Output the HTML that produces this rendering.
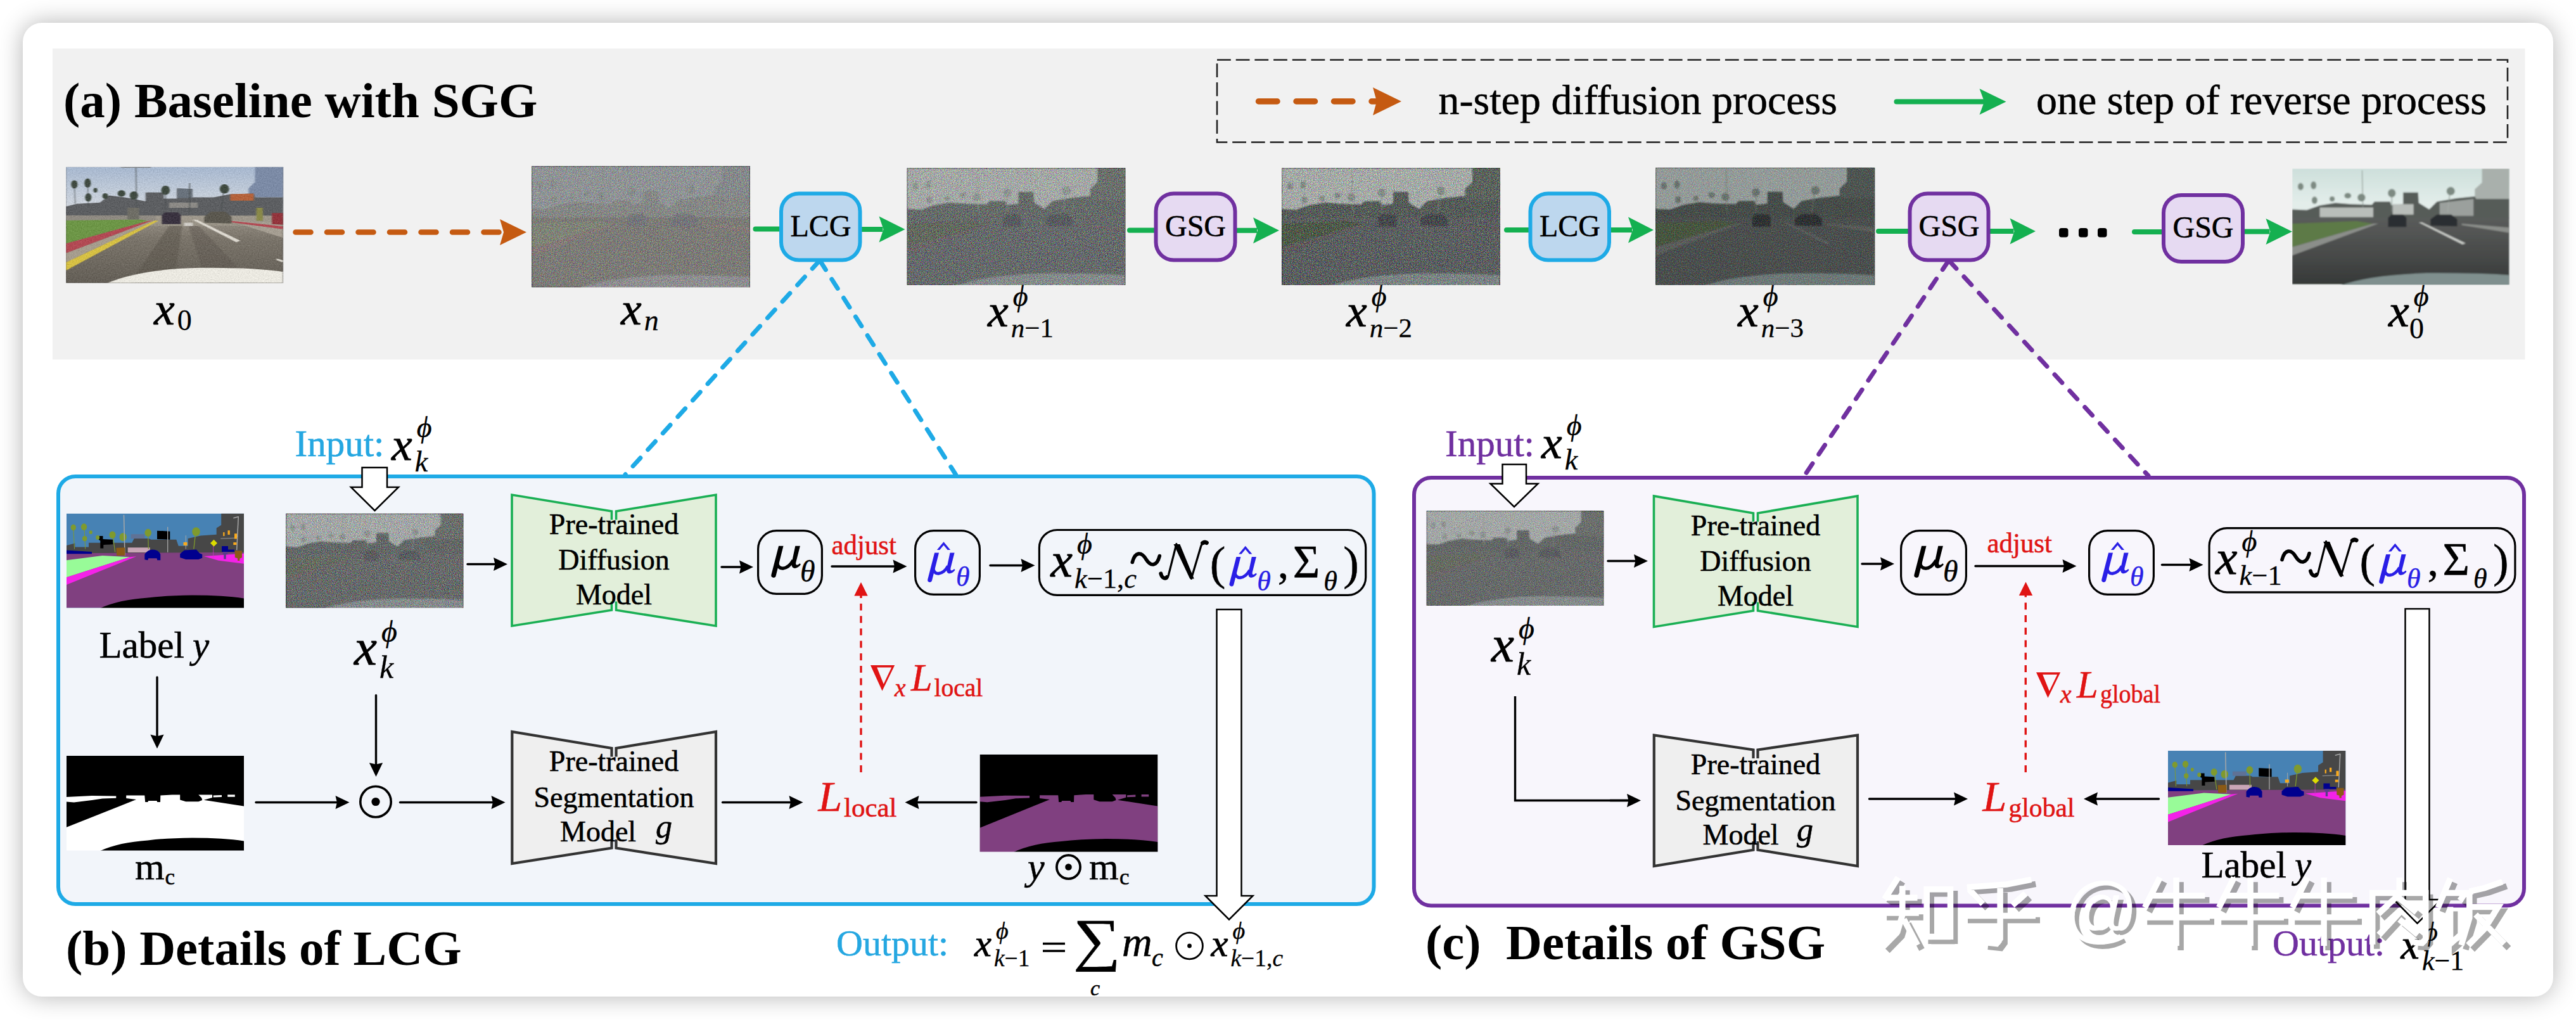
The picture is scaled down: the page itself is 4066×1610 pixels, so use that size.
<!DOCTYPE html><html><head><meta charset="utf-8"><title>SGG</title><style>
html,body{margin:0;padding:0;background:#fff;}body{width:4066px;height:1610px;position:relative;overflow:hidden;font-family:"Liberation Serif",serif;}
#card{position:absolute;left:36px;top:36px;width:3993.5px;height:1536.5px;border-radius:30px;background:#fff;box-shadow:0 0 38px rgba(0,0,0,0.30);}
svg#main{position:absolute;left:0;top:0;}text{font-family:"Liberation Serif",serif;white-space:pre;}
</style></head><body><div id="card"></div>
<svg id="main" width="4066" height="1610" viewBox="0 0 4066 1610">
<defs><filter id="nzA" x="0" y="0" width="100%" height="100%" color-interpolation-filters="sRGB"><feGaussianBlur in="SourceGraphic" stdDeviation="1.2" result="b"/><feTurbulence type="fractalNoise" baseFrequency="0.71" numOctaves="2" seed="3" result="t"/><feColorMatrix in="t" type="matrix" values="1 0 0 0 0 0 1 0 0 0 0 0 1 0 0 0 0 0 0 1" result="n"/><feComposite in="b" in2="n" operator="arithmetic" k1="0" k2="1" k3="0.75" k4="-0.375"/></filter><filter id="nzB" x="0" y="0" width="100%" height="100%" color-interpolation-filters="sRGB"><feGaussianBlur in="SourceGraphic" stdDeviation="1.2" result="b"/><feTurbulence type="fractalNoise" baseFrequency="0.71" numOctaves="2" seed="7" result="t"/><feColorMatrix in="t" type="matrix" values="1 0 0 0 0 0 1 0 0 0 0 0 1 0 0 0 0 0 0 1" result="n"/><feComposite in="b" in2="n" operator="arithmetic" k1="0" k2="1" k3="1.0" k4="-0.5"/></filter><filter id="nzC" x="0" y="0" width="100%" height="100%" color-interpolation-filters="sRGB"><feGaussianBlur in="SourceGraphic" stdDeviation="1.2" result="b"/><feTurbulence type="fractalNoise" baseFrequency="0.71" numOctaves="2" seed="11" result="t"/><feColorMatrix in="t" type="matrix" values="1 0 0 0 0 0 1 0 0 0 0 0 1 0 0 0 0 0 0 1" result="n"/><feComposite in="b" in2="n" operator="arithmetic" k1="0" k2="1" k3="1.0" k4="-0.5"/></filter><filter id="nzD" x="0" y="0" width="100%" height="100%" color-interpolation-filters="sRGB"><feGaussianBlur in="SourceGraphic" stdDeviation="1.2" result="b"/><feTurbulence type="fractalNoise" baseFrequency="0.71" numOctaves="2" seed="17" result="t"/><feColorMatrix in="t" type="matrix" values="1 0 0 0 0 0 1 0 0 0 0 0 1 0 0 0 0 0 0 1" result="n"/><feComposite in="b" in2="n" operator="arithmetic" k1="0" k2="1" k3="0.6" k4="-0.3"/></filter><filter id="nzE" x="0" y="0" width="100%" height="100%" color-interpolation-filters="sRGB"><feGaussianBlur in="SourceGraphic" stdDeviation="1.2" result="b"/><feTurbulence type="fractalNoise" baseFrequency="0.71" numOctaves="2" seed="23" result="t"/><feColorMatrix in="t" type="matrix" values="1 0 0 0 0 0 1 0 0 0 0 0 1 0 0 0 0 0 0 1" result="n"/><feComposite in="b" in2="n" operator="arithmetic" k1="0" k2="1" k3="1.0" k4="-0.5"/></filter><filter id="nzF" x="0" y="0" width="100%" height="100%" color-interpolation-filters="sRGB"><feGaussianBlur in="SourceGraphic" stdDeviation="1.2" result="b"/><feTurbulence type="fractalNoise" baseFrequency="0.71" numOctaves="2" seed="29" result="t"/><feColorMatrix in="t" type="matrix" values="1 0 0 0 0 0 1 0 0 0 0 0 1 0 0 0 0 0 0 1" result="n"/><feComposite in="b" in2="n" operator="arithmetic" k1="0" k2="1" k3="0.75" k4="-0.375"/></filter><filter id="tex" x="0" y="0" width="100%" height="100%" color-interpolation-filters="sRGB"><feGaussianBlur in="SourceGraphic" stdDeviation="0.8" result="b"/><feTurbulence type="fractalNoise" baseFrequency="0.5" numOctaves="3" seed="4" result="t"/><feColorMatrix in="t" type="matrix" values="0.33 0.33 0.33 0 0 0.33 0.33 0.33 0 0 0.33 0.33 0.33 0 0 0 0 0 0 1" result="n"/><feComposite in="b" in2="n" operator="arithmetic" k1="0" k2="1" k3="0.28" k4="-0.14"/></filter><filter id="soft" x="0" y="0" width="100%" height="100%"><feGaussianBlur stdDeviation="0.9"/></filter><filter id="soft2" x="0" y="0" width="100%" height="100%"><feGaussianBlur stdDeviation="0.5"/></filter><linearGradient id="gsky" x1="0" y1="0" x2="0" y2="1"><stop offset="0" stop-color="#a7b8cf"/><stop offset="1" stop-color="#dadde1"/></linearGradient><linearGradient id="groad" x1="0" y1="0" x2="0" y2="1"><stop offset="0" stop-color="#9a9388"/><stop offset="0.35" stop-color="#7a746a"/><stop offset="1" stop-color="#645f57"/></linearGradient><linearGradient id="csky" x1="0" y1="0" x2="0" y2="1"><stop offset="0" stop-color="#cddfdb"/><stop offset="0.3" stop-color="#e3edea"/><stop offset="1" stop-color="#e8f0ee"/></linearGradient><linearGradient id="croad" x1="0" y1="0" x2="0" y2="1"><stop offset="0" stop-color="#5a5c5b"/><stop offset="0.5" stop-color="#4a4c4b"/><stop offset="1" stop-color="#363938"/></linearGradient></defs>
<rect x="83" y="76.5" width="3902.5" height="491" fill="#f1f1f1"/>
<text x="100" y="185" font-size="79" fill="#000" font-weight="bold" textLength="748.5" lengthAdjust="spacingAndGlyphs" >(a) Baseline with SGG</text>
<rect x="1921" y="94.5" width="2037" height="130" fill="none" stroke="#222" stroke-width="2.6" stroke-dasharray="21.8 7.9"/>
<path d="M1986.5 160H2175" stroke="#C55A11" stroke-width="9.5" stroke-linecap="round" stroke-dasharray="29.5 30" fill="none"/>
<path d="M2212 160L2167 138L2173 160L2167 182Z" fill="#C55A11"/>
<text x="2270.6" y="179.5" font-size="66" fill="#000" stroke="#000" stroke-width="0.55" >n-step diffusion process</text>
<path d="M2993.5 160.5H3135" stroke="#14B050" stroke-width="8" stroke-linecap="round" fill="none"/>
<path d="M3166.5 160.5L3124.5 140L3132 160.5L3124.5 181Z" fill="#14B050"/>
<text x="3214" y="180" font-size="66" fill="#000" stroke="#000" stroke-width="0.55" >one step of reverse process</text>
<svg x="104" y="263.5" width="343.5" height="183.5" viewBox="0 0 344 184" preserveAspectRatio="none" overflow="hidden"><g filter="url(#tex)"><rect width="344" height="78" fill="url(#gsky)"/><polygon points="298.9,0.0 343.2,0.0 343.2,48.2 288.7,48.2 288.7,33.8 298.9,23.5" fill="#7c8ba6"/><polygon points="0.0,62.6 16.9,58.5 53.9,56.4 68.4,45.1 93.1,48.2 126.0,54.4 126.0,40.4 154.8,40.4 154.8,50.2 175.4,50.2 175.4,33.8 200.1,34.8 200.1,48.2 233.1,48.2 259.8,43.0 296.9,42.0 298.9,48.2 343.2,48.2 343.2,78.0 0.0,78.0" fill="#5d5f62"/><polygon points="259.8,43.0 296.9,42.0 296.9,53.3 259.8,53.3" fill="#b5633c"/><polygon points="176.4,34.2 199.7,35.0 199.7,49.2 176.4,49.2" fill="#69727c"/><polygon points="163.1,56.4 208.4,56.4 208.4,64.6 163.1,64.6" fill="#8c8a86"/><ellipse cx="13.4" cy="27.6" rx="5.1" ry="6.6" fill="#3f4a40"/><ellipse cx="34.4" cy="25.5" rx="5.1" ry="7.4" fill="#3f4a40"/><ellipse cx="46.7" cy="36.9" rx="3.1" ry="3.7" fill="#3f4a40"/><ellipse cx="35.4" cy="48.2" rx="5.1" ry="6.6" fill="#3f4a40"/><ellipse cx="87.9" cy="42.0" rx="6.2" ry="5.1" fill="#3f4a40"/><ellipse cx="107.5" cy="45.1" rx="6.6" ry="6.6" fill="#3f4a40"/><ellipse cx="157.5" cy="36.9" rx="6.8" ry="7.4" fill="#3f4a40"/><ellipse cx="250.6" cy="34.8" rx="7.4" ry="7.4" fill="#3f4a40"/><ellipse cx="62.2" cy="46.1" rx="4.5" ry="4.5" fill="#3f4a40"/><line x1="13.4" y1="27.6" x2="14.8" y2="58.5" stroke="#4a4f50" stroke-width="1.0"/><line x1="34.4" y1="25.5" x2="35.4" y2="64.6" stroke="#4a4f50" stroke-width="1.0"/><line x1="157.5" y1="37.9" x2="157.5" y2="68.8" stroke="#4a4f50" stroke-width="1.2"/><line x1="249.5" y1="35.8" x2="245.8" y2="68.8" stroke="#4a4f50" stroke-width="1.2"/><line x1="110.6" y1="0.0" x2="112.0" y2="68.8" stroke="#4a4f50" stroke-width="1.2"/><line x1="195.6" y1="25.5" x2="195.6" y2="72.9" stroke="#4a4f50" stroke-width="1.4"/><line x1="86.9" y1="0.8" x2="134.2" y2="0.8" stroke="#7a7f84" stroke-width="1.4"/><polygon points="0.0,77.0 343.2,77.0 343.2,183.4 0.0,183.4" fill="url(#groad)"/><polygon points="0.0,78.0 343.2,78.0 343.2,93.5 0.0,93.5" fill="#b0a99c" opacity="0.35"/><polygon points="0.0,77.0 142.5,77.0 142.5,85.2 0.0,85.2" fill="#8f8a82"/><polygon points="0.0,84.8 117.8,83.2 130.1,85.6 0.0,121.3" fill="#6d9647"/><polygon points="0.0,121.3 130.1,85.6 137.3,84.8 0.0,136.7" fill="#b24a54"/><polygon points="0.0,136.7 137.3,84.8 140.8,84.8 0.0,151.1" fill="#a69d8e"/><polygon points="0.0,151.1 140.8,84.8 146.2,85.2 0.0,163.9" fill="#d6c044"/><polygon points="261.9,84.8 343.2,88.3 343.2,112.0 290.7,95.5" fill="#a59e92"/><polygon points="261.9,85.6 343.2,93.9 343.2,98.6 261.9,87.7" fill="#b24a54"/><polygon points="200.1,83.6 206.7,83.6 275.3,116.5 269.7,119.2" fill="#ddd9d0"/><polygon points="186.7,88.3 200.1,88.3 201.2,93.5 186.7,93.5" fill="#cfccc6"/><polygon points="332.9,144.9 343.2,148.0 343.2,151.1 332.9,147.4" fill="#ddd9d0"/><polygon points="97.2,64.6 115.7,64.6 115.7,83.2 97.2,83.2" fill="#6f6e66"/><polygon points="163.1,93.5 183.7,93.5 171.3,183.4 101.3,183.4" fill="#5d574f" opacity="0.55"/><polygon points="193.9,93.5 210.4,93.5 294.8,183.4 222.8,183.4" fill="#5d574f" opacity="0.45"/><polygon points="151.7,77.0 155.9,71.9 177.5,71.9 181.6,77.0 181.6,90.4 151.7,90.4" fill="#3a3340"/><polygon points="218.7,79.1 228.9,70.8 251.6,70.8 261.9,79.1 261.9,89.4 218.7,88.3" fill="#5b584f"/><polygon points="325.7,72.9 343.2,72.9 343.2,91.4 325.7,90.4" fill="#93353d"/><polygon points="301.0,64.6 311.3,64.6 311.3,85.2 301.0,85.2" fill="#8a8a4a"/><path d="M66.3 183.4Q119.8 161.4 212.5 159.8Q294.8 158.9 343.2 165.9L343.2 183.4Z" fill="#ebe9e1"/></g></svg>
<svg x="839" y="262" width="345" height="191.5" viewBox="0 0 344 184" preserveAspectRatio="none" overflow="hidden"><g filter="url(#nzA)"><rect width="344" height="184" fill="#8f9395"/><polygon points="300.0,0.0 343.2,0.0 343.2,48.2 288.7,48.2 288.7,32.7 300.0,22.4" fill="#85898b"/><polygon points="0.0,64.6 23.1,65.7 43.6,58.5 68.4,54.4 93.1,56.4 126.0,57.4 130.1,52.3 154.8,52.3 156.9,58.5 175.4,56.4 175.4,37.9 199.1,37.9 200.1,54.4 216.6,64.6 228.9,52.3 259.8,47.1 288.7,44.1 290.7,48.2 343.2,48.2 343.2,79.1 0.0,79.1" fill="#858785"/><ellipse cx="13.4" cy="28.6" rx="4.5" ry="5.8" fill="#878b8b"/><ellipse cx="33.8" cy="26.6" rx="4.5" ry="6.2" fill="#878b8b"/><ellipse cx="35.4" cy="50.2" rx="4.5" ry="5.8" fill="#878b8b"/><ellipse cx="87.9" cy="43.0" rx="5.4" ry="4.5" fill="#878b8b"/><ellipse cx="109.5" cy="46.1" rx="6.2" ry="6.2" fill="#878b8b"/><ellipse cx="157.5" cy="38.9" rx="6.2" ry="6.6" fill="#878b8b"/><ellipse cx="250.6" cy="35.8" rx="6.6" ry="6.6" fill="#878b8b"/><ellipse cx="63.2" cy="48.2" rx="4.1" ry="4.1" fill="#878b8b"/><line x1="110.6" y1="2.9" x2="112.0" y2="68.8" stroke="#878b8b" stroke-width="1.0"/><line x1="157.5" y1="37.9" x2="157.5" y2="68.8" stroke="#878b8b" stroke-width="1.0"/><line x1="249.5" y1="35.8" x2="245.8" y2="68.8" stroke="#878b8b" stroke-width="1.0"/><polygon points="0.0,78.0 343.2,78.0 343.2,183.4 0.0,183.4" fill="#7c7b77"/><polygon points="0.0,87.3 101.3,83.2 128.1,87.3 0.0,124.4" fill="#7f8377"/><polygon points="0.0,124.4 128.1,87.3 136.3,86.9 0.0,137.7" fill="#857a78"/><polygon points="200.1,85.2 205.3,85.2 274.2,118.2 269.1,120.2" fill="#7f7e7a"/><polygon points="268.1,87.3 343.2,93.5 343.2,101.7 268.1,89.4" fill="#857a78"/><polygon points="151.7,78.0 156.9,72.9 175.4,72.9 180.6,78.0 180.6,92.4 151.7,92.4" fill="#75767a"/><polygon points="218.7,80.1 228.9,72.9 251.6,72.9 260.9,80.1 260.9,91.4 218.7,90.4" fill="#75767a"/><path d="M74.5 185.7Q119.8 168.6 212.5 165.5Q294.8 165.1 343.2 168.6L343.2 185.7Z" fill="#8e8e90"/></g></svg>
<svg x="1431.5" y="265" width="345" height="185" viewBox="0 0 344 184" preserveAspectRatio="none" overflow="hidden"><g filter="url(#nzB)"><rect width="344" height="184" fill="#a3a7a5"/><polygon points="300.0,0.0 343.2,0.0 343.2,48.2 288.7,48.2 288.7,32.7 300.0,22.4" fill="#6b706c"/><polygon points="0.0,64.6 23.1,65.7 43.6,58.5 68.4,54.4 93.1,56.4 126.0,57.4 130.1,52.3 154.8,52.3 156.9,58.5 175.4,56.4 175.4,37.9 199.1,37.9 200.1,54.4 216.6,64.6 228.9,52.3 259.8,47.1 288.7,44.1 290.7,48.2 343.2,48.2 343.2,79.1 0.0,79.1" fill="#666b69"/><ellipse cx="13.4" cy="28.6" rx="4.5" ry="5.8" fill="#8d928f"/><ellipse cx="33.8" cy="26.6" rx="4.5" ry="6.2" fill="#8d928f"/><ellipse cx="35.4" cy="50.2" rx="4.5" ry="5.8" fill="#8d928f"/><ellipse cx="87.9" cy="43.0" rx="5.4" ry="4.5" fill="#8d928f"/><ellipse cx="109.5" cy="46.1" rx="6.2" ry="6.2" fill="#8d928f"/><ellipse cx="157.5" cy="38.9" rx="6.2" ry="6.6" fill="#8d928f"/><ellipse cx="250.6" cy="35.8" rx="6.6" ry="6.6" fill="#8d928f"/><ellipse cx="63.2" cy="48.2" rx="4.1" ry="4.1" fill="#8d928f"/><line x1="110.6" y1="2.9" x2="112.0" y2="68.8" stroke="#8d928f" stroke-width="1.0"/><line x1="157.5" y1="37.9" x2="157.5" y2="68.8" stroke="#8d928f" stroke-width="1.0"/><line x1="249.5" y1="35.8" x2="245.8" y2="68.8" stroke="#8d928f" stroke-width="1.0"/><polygon points="0.0,78.0 343.2,78.0 343.2,183.4 0.0,183.4" fill="#666a6b"/><polygon points="0.0,87.3 101.3,83.2 128.1,87.3 0.0,124.4" fill="#63695f"/><polygon points="0.0,124.4 128.1,87.3 136.3,86.9 0.0,137.7" fill="#6a6768"/><polygon points="200.1,85.2 205.3,85.2 274.2,118.2 269.1,120.2" fill="#6b6e6e"/><polygon points="268.1,87.3 343.2,93.5 343.2,101.7 268.1,89.4" fill="#6a6768"/><polygon points="151.7,78.0 156.9,72.9 175.4,72.9 180.6,78.0 180.6,92.4 151.7,92.4" fill="#595c60"/><polygon points="218.7,80.1 228.9,72.9 251.6,72.9 260.9,80.1 260.9,91.4 218.7,90.4" fill="#595c60"/><path d="M74.5 185.7Q119.8 168.6 212.5 165.5Q294.8 165.1 343.2 168.6L343.2 185.7Z" fill="#848a8b"/></g></svg>
<svg x="2023" y="265" width="345" height="185" viewBox="0 0 344 184" preserveAspectRatio="none" overflow="hidden"><g filter="url(#nzC)"><rect width="344" height="184" fill="#a4a9a6"/><polygon points="300.0,0.0 343.2,0.0 343.2,48.2 288.7,48.2 288.7,32.7 300.0,22.4" fill="#5c635d"/><polygon points="0.0,64.6 23.1,65.7 43.6,58.5 68.4,54.4 93.1,56.4 126.0,57.4 130.1,52.3 154.8,52.3 156.9,58.5 175.4,56.4 175.4,37.9 199.1,37.9 200.1,54.4 216.6,64.6 228.9,52.3 259.8,47.1 288.7,44.1 290.7,48.2 343.2,48.2 343.2,79.1 0.0,79.1" fill="#565c59"/><ellipse cx="13.4" cy="28.6" rx="4.5" ry="5.8" fill="#838a85"/><ellipse cx="33.8" cy="26.6" rx="4.5" ry="6.2" fill="#838a85"/><ellipse cx="35.4" cy="50.2" rx="4.5" ry="5.8" fill="#838a85"/><ellipse cx="87.9" cy="43.0" rx="5.4" ry="4.5" fill="#838a85"/><ellipse cx="109.5" cy="46.1" rx="6.2" ry="6.2" fill="#838a85"/><ellipse cx="157.5" cy="38.9" rx="6.2" ry="6.6" fill="#838a85"/><ellipse cx="250.6" cy="35.8" rx="6.6" ry="6.6" fill="#838a85"/><ellipse cx="63.2" cy="48.2" rx="4.1" ry="4.1" fill="#838a85"/><line x1="110.6" y1="2.9" x2="112.0" y2="68.8" stroke="#838a85" stroke-width="1.0"/><line x1="157.5" y1="37.9" x2="157.5" y2="68.8" stroke="#838a85" stroke-width="1.0"/><line x1="249.5" y1="35.8" x2="245.8" y2="68.8" stroke="#838a85" stroke-width="1.0"/><polygon points="0.0,78.0 343.2,78.0 343.2,183.4 0.0,183.4" fill="#5b5f60"/><polygon points="0.0,87.3 101.3,83.2 128.1,87.3 0.0,124.4" fill="#4f5a4a"/><polygon points="0.0,124.4 128.1,87.3 136.3,86.9 0.0,137.7" fill="#5e5c5c"/><polygon points="200.1,85.2 205.3,85.2 274.2,118.2 269.1,120.2" fill="#626565"/><polygon points="268.1,87.3 343.2,93.5 343.2,101.7 268.1,89.4" fill="#5e5c5c"/><polygon points="151.7,78.0 156.9,72.9 175.4,72.9 180.6,78.0 180.6,92.4 151.7,92.4" fill="#47494d"/><polygon points="218.7,80.1 228.9,72.9 251.6,72.9 260.9,80.1 260.9,91.4 218.7,90.4" fill="#47494d"/><path d="M74.5 185.7Q119.8 168.6 212.5 165.5Q294.8 165.1 343.2 168.6L343.2 185.7Z" fill="#7b8383"/></g></svg>
<svg x="2613" y="264.5" width="346.5" height="185.5" viewBox="0 0 344 184" preserveAspectRatio="none" overflow="hidden"><g filter="url(#nzD)"><rect width="344" height="184" fill="#939a98"/><polygon points="300.0,0.0 343.2,0.0 343.2,48.2 288.7,48.2 288.7,32.7 300.0,22.4" fill="#4e5552"/><polygon points="0.0,64.6 23.1,65.7 43.6,58.5 68.4,54.4 93.1,56.4 126.0,57.4 130.1,52.3 154.8,52.3 156.9,58.5 175.4,56.4 175.4,37.9 199.1,37.9 200.1,54.4 216.6,64.6 228.9,52.3 259.8,47.1 288.7,44.1 290.7,48.2 343.2,48.2 343.2,79.1 0.0,79.1" fill="#474d4a"/><ellipse cx="13.4" cy="28.6" rx="4.5" ry="5.8" fill="#69726d"/><ellipse cx="33.8" cy="26.6" rx="4.5" ry="6.2" fill="#69726d"/><ellipse cx="35.4" cy="50.2" rx="4.5" ry="5.8" fill="#69726d"/><ellipse cx="87.9" cy="43.0" rx="5.4" ry="4.5" fill="#69726d"/><ellipse cx="109.5" cy="46.1" rx="6.2" ry="6.2" fill="#69726d"/><ellipse cx="157.5" cy="38.9" rx="6.2" ry="6.6" fill="#69726d"/><ellipse cx="250.6" cy="35.8" rx="6.6" ry="6.6" fill="#69726d"/><ellipse cx="63.2" cy="48.2" rx="4.1" ry="4.1" fill="#69726d"/><line x1="110.6" y1="2.9" x2="112.0" y2="68.8" stroke="#69726d" stroke-width="1.0"/><line x1="157.5" y1="37.9" x2="157.5" y2="68.8" stroke="#69726d" stroke-width="1.0"/><line x1="249.5" y1="35.8" x2="245.8" y2="68.8" stroke="#69726d" stroke-width="1.0"/><polygon points="0.0,78.0 343.2,78.0 343.2,183.4 0.0,183.4" fill="#4b4f4e"/><polygon points="0.0,87.3 101.3,83.2 128.1,87.3 0.0,124.4" fill="#485540"/><polygon points="0.0,124.4 128.1,87.3 136.3,86.9 0.0,137.7" fill="#5a5d5a"/><polygon points="200.1,85.2 205.3,85.2 274.2,118.2 269.1,120.2" fill="#5b5f5e"/><polygon points="268.1,87.3 343.2,93.5 343.2,101.7 268.1,89.4" fill="#5a5d5a"/><polygon points="151.7,78.0 156.9,72.9 175.4,72.9 180.6,78.0 180.6,92.4 151.7,92.4" fill="#2f3233"/><polygon points="218.7,80.1 228.9,72.9 251.6,72.9 260.9,80.1 260.9,91.4 218.7,90.4" fill="#2f3233"/><path d="M74.5 185.7Q119.8 168.6 212.5 165.5Q294.8 165.1 343.2 168.6L343.2 185.7Z" fill="#6d7877"/></g></svg>
<svg x="3618" y="266" width="343.5" height="183.5" viewBox="0 0 344 184" preserveAspectRatio="none" overflow="hidden"><g filter="url(#soft)"><rect width="344" height="184" fill="url(#csky)"/><polygon points="300.0,0.0 343.2,0.0 343.2,48.2 288.7,48.2 288.7,32.7 300.0,22.4" fill="#a9b0ac"/><polygon points="0.0,64.6 23.1,65.7 43.6,58.5 68.4,54.4 93.1,56.4 126.0,57.4 130.1,52.3 154.8,52.3 156.9,58.5 175.4,56.4 175.4,37.9 199.1,37.9 200.1,54.4 216.6,64.6 228.9,52.3 259.8,47.1 288.7,44.1 290.7,48.2 343.2,48.2 343.2,79.1 0.0,79.1" fill="#565c59"/><ellipse cx="13.4" cy="28.6" rx="4.5" ry="5.8" fill="#7d8a82"/><ellipse cx="33.8" cy="26.6" rx="4.5" ry="6.2" fill="#7d8a82"/><ellipse cx="35.4" cy="50.2" rx="4.5" ry="5.8" fill="#7d8a82"/><ellipse cx="87.9" cy="43.0" rx="5.4" ry="4.5" fill="#7d8a82"/><ellipse cx="109.5" cy="46.1" rx="6.2" ry="6.2" fill="#7d8a82"/><ellipse cx="157.5" cy="38.9" rx="6.2" ry="6.6" fill="#7d8a82"/><ellipse cx="250.6" cy="35.8" rx="6.6" ry="6.6" fill="#7d8a82"/><ellipse cx="63.2" cy="48.2" rx="4.1" ry="4.1" fill="#7d8a82"/><line x1="110.6" y1="2.9" x2="112.0" y2="68.8" stroke="#7d8a82" stroke-width="1.0"/><line x1="157.5" y1="37.9" x2="157.5" y2="68.8" stroke="#7d8a82" stroke-width="1.0"/><line x1="249.5" y1="35.8" x2="245.8" y2="68.8" stroke="#7d8a82" stroke-width="1.0"/><polygon points="0.0,78.0 343.2,78.0 343.2,183.4 0.0,183.4" fill="url(#croad)"/><polygon points="43.6,61.6 128.1,61.6 128.1,77.0 43.6,77.0" fill="#b9beba"/><polygon points="158.9,56.4 191.9,56.4 191.9,72.9 158.9,72.9" fill="#b9beba"/><polygon points="233.1,54.4 286.6,48.2 286.6,74.9 233.1,74.9" fill="#b9beba" opacity="0.7"/><polygon points="0.0,87.3 101.3,83.2 128.1,87.3 0.0,124.4" fill="#5d7a47"/><polygon points="0.0,124.4 128.1,87.3 136.3,86.9 0.0,137.7" fill="#8b8e8a"/><polygon points="200.1,85.2 205.3,85.2 274.2,118.2 269.1,120.2" fill="#c9ccc8"/><polygon points="268.1,87.3 343.2,93.5 343.2,101.7 268.1,89.4" fill="#8b8e8a"/><polygon points="151.7,78.0 156.9,72.9 175.4,72.9 180.6,78.0 180.6,92.4 151.7,92.4" fill="#2b2d30"/><polygon points="218.7,80.1 228.9,72.9 251.6,72.9 260.9,80.1 260.9,91.4 218.7,90.4" fill="#2b2d30"/><path d="M74.5 185.7Q119.8 168.6 212.5 165.5Q294.8 165.1 343.2 168.6L343.2 185.7Z" fill="#7f8f8e"/></g></svg>
<path d="M466.5 366.5H790" stroke="#C55A11" stroke-width="8.5" stroke-linecap="round" stroke-dasharray="24 25.5" fill="none"/>
<path d="M831 366.5L789 346L795 366.5L789 387Z" fill="#C55A11"/>
<path d="M1294 411L987 749" stroke="#1EAAE6" stroke-width="7" stroke-dasharray="17.5 17.6" stroke-linecap="round" fill="none"/>
<path d="M1294 411L1508.5 749" stroke="#1EAAE6" stroke-width="7" stroke-dasharray="17.5 17.6" stroke-linecap="round" fill="none"/>
<path d="M3076 411L2848 751" stroke="#7030A0" stroke-width="7" stroke-dasharray="17.5 17.6" stroke-linecap="round" fill="none"/>
<path d="M3076 411L3391 751" stroke="#7030A0" stroke-width="7" stroke-dasharray="17.5 17.6" stroke-linecap="round" fill="none"/>
<path d="M1192.5 361.5H1232" stroke="#14B050" stroke-width="8" stroke-linecap="round" fill="none"/>
<path d="M1358 362H1393.5" stroke="#14B050" stroke-width="8" fill="none"/>
<path d="M1428.5 362L1387.5 341.5L1394.5 362L1387.5 382.5Z" fill="#14B050"/>
<path d="M1783 363.5H1824" stroke="#14B050" stroke-width="8" stroke-linecap="round" fill="none"/>
<path d="M1950 363.7H1984" stroke="#14B050" stroke-width="8" fill="none"/>
<path d="M2019 363.7L1978 343.2L1985 363.7L1978 384.2Z" fill="#14B050"/>
<path d="M2378 363H2415" stroke="#14B050" stroke-width="8" stroke-linecap="round" fill="none"/>
<path d="M2540 363H2576" stroke="#14B050" stroke-width="8" fill="none"/>
<path d="M2610 363L2570 342.5L2577 363L2570 383.5Z" fill="#14B050"/>
<path d="M2965 365H3014" stroke="#14B050" stroke-width="8" stroke-linecap="round" fill="none"/>
<path d="M3139 365H3178.5" stroke="#14B050" stroke-width="8" fill="none"/>
<path d="M3213 365L3172.5 344.5L3179.5 365L3172.5 385.5Z" fill="#14B050"/>
<path d="M3369 366H3415" stroke="#14B050" stroke-width="8" stroke-linecap="round" fill="none"/>
<path d="M3540 365.5H3582.5" stroke="#14B050" stroke-width="8" fill="none"/>
<path d="M3618 365.5L3576.5 345.0L3583.5 365.5L3576.5 386.0Z" fill="#14B050"/>
<rect x="1233.0" y="305.5" width="124.5" height="105.0" rx="28" fill="#BDD7EE" stroke="#1EAAE6" stroke-width="6"/>
<rect x="1824.5" y="305.5" width="125.0" height="105.0" rx="28" fill="#E6DAF2" stroke="#7030A0" stroke-width="6"/>
<rect x="2415.5" y="305.5" width="124.5" height="105.0" rx="28" fill="#BDD7EE" stroke="#1EAAE6" stroke-width="6"/>
<rect x="3014.5" y="305.5" width="124.0" height="105.0" rx="28" fill="#E6DAF2" stroke="#7030A0" stroke-width="6"/>
<rect x="3415.0" y="308.0" width="125" height="105" rx="28" fill="#E6DAF2" stroke="#7030A0" stroke-width="6"/>
<text x="1295.5" y="372.5" font-size="48" fill="#000" stroke="#000" stroke-width="0.55" text-anchor="middle" >LCG</text>
<text x="1887" y="372.5" font-size="48" fill="#000" stroke="#000" stroke-width="0.55" text-anchor="middle" >GSG</text>
<text x="2478" y="372.5" font-size="48" fill="#000" stroke="#000" stroke-width="0.55" text-anchor="middle" >LCG</text>
<text x="3076.5" y="372.5" font-size="48" fill="#000" stroke="#000" stroke-width="0.55" text-anchor="middle" >GSG</text>
<text x="3477.5" y="375" font-size="48" fill="#000" stroke="#000" stroke-width="0.55" text-anchor="middle" >GSG</text>
<rect x="3250" y="360" width="14.5" height="14.5" rx="4" fill="#000"/>
<rect x="3281" y="360" width="14.5" height="14.5" rx="4" fill="#000"/>
<rect x="3311" y="360" width="14.5" height="14.5" rx="4" fill="#000"/>
<text x="243" y="512" font-size="72.8" font-style="italic" fill="#000" stroke="#000" stroke-width="0.8" textLength="32.7" lengthAdjust="spacingAndGlyphs">x</text>
<text x="279.6784" y="520.5" font-size="46" fill="#000" stroke="#000" stroke-width="0.3"><tspan font-style="normal">0</tspan></text>

<text x="980" y="512" font-size="72.8" font-style="italic" fill="#000" stroke="#000" stroke-width="0.8" textLength="32.7" lengthAdjust="spacingAndGlyphs">x</text>
<text x="1016.6784" y="520.5" font-size="46" fill="#000" stroke="#000" stroke-width="0.3"><tspan font-style="italic">n</tspan></text>
<text x="1559" y="515" font-size="72.8" font-style="italic" fill="#000" stroke="#000" stroke-width="0.8" textLength="32.7" lengthAdjust="spacingAndGlyphs">x</text>
<text x="1598.6784" y="483" font-size="46" font-style="italic" fill="#000" stroke="#000" stroke-width="0.4">ϕ</text>
<text x="1595.6784" y="532" font-size="43" fill="#000" stroke="#000" stroke-width="0.3"><tspan font-style="italic">n</tspan><tspan font-style="normal">−</tspan><tspan font-style="normal">1</tspan></text>
<text x="2125" y="515" font-size="72.8" font-style="italic" fill="#000" stroke="#000" stroke-width="0.8" textLength="32.7" lengthAdjust="spacingAndGlyphs">x</text>
<text x="2164.6784" y="483" font-size="46" font-style="italic" fill="#000" stroke="#000" stroke-width="0.4">ϕ</text>
<text x="2161.6784" y="532" font-size="43" fill="#000" stroke="#000" stroke-width="0.3"><tspan font-style="italic">n</tspan><tspan font-style="normal">−</tspan><tspan font-style="normal">2</tspan></text>
<text x="2743" y="515" font-size="72.8" font-style="italic" fill="#000" stroke="#000" stroke-width="0.8" textLength="32.7" lengthAdjust="spacingAndGlyphs">x</text>
<text x="2782.6784" y="483" font-size="46" font-style="italic" fill="#000" stroke="#000" stroke-width="0.4">ϕ</text>
<text x="2779.6784" y="532" font-size="43" fill="#000" stroke="#000" stroke-width="0.3"><tspan font-style="italic">n</tspan><tspan font-style="normal">−</tspan><tspan font-style="normal">3</tspan></text>
<text x="3770" y="515" font-size="72.8" font-style="italic" fill="#000" stroke="#000" stroke-width="0.8" textLength="32.7" lengthAdjust="spacingAndGlyphs">x</text>
<text x="3809.6784" y="483" font-size="46" font-style="italic" fill="#000" stroke="#000" stroke-width="0.4">ϕ</text>
<text x="3803" y="533.5" font-size="46" fill="#000" stroke="#000" stroke-width="0.3"><tspan font-style="normal">0</tspan></text>
<rect x="92" y="752" width="2076.5" height="675" rx="27" fill="#F2F5FA" stroke="#1EAAE6" stroke-width="6"/>
<text x="465.5" y="720" font-size="59" fill="#25A7E1" stroke="#25A7E1" stroke-width="0.55" >Input:</text>
<text x="618" y="726" font-size="72.8" font-style="italic" fill="#000" stroke="#000" stroke-width="0.8" textLength="32.7" lengthAdjust="spacingAndGlyphs">x</text>
<text x="657.6784" y="690" font-size="46" font-style="italic" fill="#000" stroke="#000" stroke-width="0.4">ϕ</text>
<text x="654.6784" y="744" font-size="46" fill="#000" stroke="#000" stroke-width="0.3"><tspan font-style="italic">k</tspan></text>
<path d="M571.5 738H611V769H629L591.5 806L554 769H571.5Z" fill="#fff" stroke="#000" stroke-width="2.5" stroke-linejoin="miter"/>
<svg x="105" y="810.5" width="280" height="149" viewBox="0 0 280 149.3" preserveAspectRatio="none" overflow="hidden"><g filter="url(#soft2)"><rect width="280" height="150" fill="#4682B4"/><polygon points="244.2,0.0 280.0,0.0 280.0,63.0 191.7,63.0 191.7,39.7 211.7,35.0 236.7,33.3 236.7,23.0 244.2,18.3" fill="#464646"/><polygon points="35.0,46.3 103.3,46.3 106.7,39.7 130.0,39.7 133.3,41.3 173.3,41.3 176.7,51.3 191.7,51.3 191.7,63.0 0.0,63.0 0.0,50.5 13.3,47.2 13.3,53.0 35.0,53.0" fill="#464646"/><polygon points="143.0,27.2 163.3,28.3 163.3,41.3 143.0,40.5" fill="#000"/><polygon points="51.7,35.5 57.5,35.5 57.5,40.5 73.3,41.3 73.3,48.8 58.3,49.7 58.3,55.0 53.3,55.0 53.3,43.0 50.8,41.3" fill="#000"/><polygon points="96.7,53.8 131.7,53.8 131.7,61.7 96.7,61.7" fill="#c9a6b6"/><polygon points="101.7,32.7 123.3,32.7 123.3,39.7 101.7,39.7" fill="#5f7296"/><polygon points="0.0,63.0 280.0,61.3 280.0,149.3 0.0,149.3" fill="#804080"/><polygon points="0.0,58.0 40.0,60.5 40.0,63.8 0.0,63.8" fill="#00008E"/><polygon points="245.0,51.7 255.0,51.7 255.0,57.2 265.0,57.2 265.0,60.5 245.0,60.5" fill="#00008E"/><polygon points="0.0,73.8 56.7,66.7 100.0,69.0 0.0,101.0" fill="#98FB98"/><polygon points="0.0,101.0 100.0,69.0 110.3,68.0 0.0,112.7" fill="#F423E8"/><polygon points="216.7,67.7 280.0,63.3 280.0,79.3 240.0,74.3" fill="#F423E8"/><ellipse cx="10.8" cy="22.2" rx="4.2" ry="4.8" fill="#7f9a2e"/><ellipse cx="27.5" cy="21.3" rx="4.7" ry="5.4" fill="#7f9a2e"/><ellipse cx="38.3" cy="29.7" rx="2.5" ry="2.9" fill="#7f9a2e"/><ellipse cx="28.7" cy="39.7" rx="3.7" ry="4.2" fill="#7f9a2e"/><ellipse cx="72.5" cy="33.8" rx="5.0" ry="5.8" fill="#7f9a2e"/><ellipse cx="89.2" cy="37.2" rx="5.7" ry="6.5" fill="#7f9a2e"/><ellipse cx="128.7" cy="30.5" rx="5.3" ry="6.1" fill="#7f9a2e"/><ellipse cx="204.5" cy="28.8" rx="6.2" ry="7.1" fill="#7f9a2e"/><ellipse cx="49.2" cy="38.0" rx="3.0" ry="3.4" fill="#7f9a2e"/><line x1="10.8" y1="23.0" x2="12.5" y2="56.3" stroke="#7f9a2e" stroke-width="1.0"/><line x1="28.0" y1="23.0" x2="29.7" y2="56.3" stroke="#7f9a2e" stroke-width="1.0"/><line x1="128.7" y1="31.3" x2="129.3" y2="56.3" stroke="#7f9a2e" stroke-width="1.2"/><line x1="203.7" y1="31.3" x2="200.8" y2="56.3" stroke="#7f9a2e" stroke-width="1.3"/><line x1="73.3" y1="36.3" x2="76.7" y2="61.3" stroke="#7f9a2e" stroke-width="1.2"/><line x1="90.5" y1="2.2" x2="92.0" y2="66.7" stroke="#a8a8a8" stroke-width="1.5"/><line x1="159.7" y1="21.3" x2="159.7" y2="61.3" stroke="#a8a8a8" stroke-width="1.3"/><line x1="271.3" y1="4.7" x2="268.7" y2="58.0" stroke="#a8a8a8" stroke-width="1.5"/><line x1="188.3" y1="34.7" x2="188.3" y2="56.3" stroke="#a8a8a8" stroke-width="1.0"/><line x1="263.3" y1="7.2" x2="271.7" y2="5.0" stroke="#a8a8a8" stroke-width="1.5"/><line x1="243.3" y1="39.7" x2="270.0" y2="38.8" stroke="#8a8a8a" stroke-width="1.2"/><polygon points="227.0,46.8 232.5,41.3 238.0,46.8 232.5,52.3" fill="#DCDC00"/><line x1="231.7" y1="51.3" x2="231.7" y2="69.7" stroke="#c838c0" stroke-width="0.8"/><rect x="247.2" y="29.7" width="2.3" height="6.0" fill="#FAAA1E"/><rect x="254.5" y="26.8" width="3.3" height="6.7" fill="#FAAA1E"/><rect x="265.0" y="31.8" width="4.0" height="8.3" fill="#FAAA1E"/><rect x="263.3" y="45.7" width="5.0" height="4.0" fill="#FAAA1E"/><rect x="184.5" y="45.5" width="6.0" height="5.0" fill="#FAAA1E"/><polygon points="78.3,54.3 92.0,53.8 92.5,66.3 79.2,66.7" fill="#8a5a14"/><polygon points="265.8,58.8 277.0,58.8 277.0,69.7 273.3,71.3 273.3,74.7 270.0,74.7 270.0,71.0 265.8,69.7" fill="#8a5a14"/><polygon points="246.7,60.5 254.2,60.5 254.2,64.7 251.7,64.7 251.7,72.2 248.3,72.2 248.3,64.7 246.7,64.7" fill="#5a3a8a"/><path d="M123.3 73.0L123.3 64.7Q128.3 57.2 135.8 57.2Q145.0 57.2 148.3 64.7L148.3 73.8L143.3 73.8L142.5 71.0L129.2 71.0L128.3 73.8Z" fill="#00008E"/><polygon points="179.2,63.8 185.8,58.0 205.0,57.2 210.0,63.0 214.2,64.7 214.2,70.5 208.3,72.7 188.3,72.7 179.2,69.7" fill="#00008E"/><path d="M53.3 149.7Q83.3 136.3 128.3 133.3Q156.7 129.7 198.3 129.3Q248.3 129.3 280.0 134.3L280.0 149.7Z" fill="#000"/></g></svg>
<svg x="451" y="810.5" width="280.5" height="149" viewBox="0 0 344 184" preserveAspectRatio="none" overflow="hidden"><g filter="url(#nzE)"><rect width="344" height="184" fill="#a2a6a5"/><polygon points="300.0,0.0 343.2,0.0 343.2,48.2 288.7,48.2 288.7,32.7 300.0,22.4" fill="#6b6f6d"/><polygon points="0.0,64.6 23.1,65.7 43.6,58.5 68.4,54.4 93.1,56.4 126.0,57.4 130.1,52.3 154.8,52.3 156.9,58.5 175.4,56.4 175.4,37.9 199.1,37.9 200.1,54.4 216.6,64.6 228.9,52.3 259.8,47.1 288.7,44.1 290.7,48.2 343.2,48.2 343.2,79.1 0.0,79.1" fill="#646867"/><ellipse cx="13.4" cy="28.6" rx="4.5" ry="5.8" fill="#8c918f"/><ellipse cx="33.8" cy="26.6" rx="4.5" ry="6.2" fill="#8c918f"/><ellipse cx="35.4" cy="50.2" rx="4.5" ry="5.8" fill="#8c918f"/><ellipse cx="87.9" cy="43.0" rx="5.4" ry="4.5" fill="#8c918f"/><ellipse cx="109.5" cy="46.1" rx="6.2" ry="6.2" fill="#8c918f"/><ellipse cx="157.5" cy="38.9" rx="6.2" ry="6.6" fill="#8c918f"/><ellipse cx="250.6" cy="35.8" rx="6.6" ry="6.6" fill="#8c918f"/><ellipse cx="63.2" cy="48.2" rx="4.1" ry="4.1" fill="#8c918f"/><line x1="110.6" y1="2.9" x2="112.0" y2="68.8" stroke="#8c918f" stroke-width="1.0"/><line x1="157.5" y1="37.9" x2="157.5" y2="68.8" stroke="#8c918f" stroke-width="1.0"/><line x1="249.5" y1="35.8" x2="245.8" y2="68.8" stroke="#8c918f" stroke-width="1.0"/><polygon points="0.0,78.0 343.2,78.0 343.2,183.4 0.0,183.4" fill="#676a6a"/><polygon points="0.0,87.3 101.3,83.2 128.1,87.3 0.0,124.4" fill="#666b62"/><polygon points="0.0,124.4 128.1,87.3 136.3,86.9 0.0,137.7" fill="#6b6869"/><polygon points="200.1,85.2 205.3,85.2 274.2,118.2 269.1,120.2" fill="#6c6e6e"/><polygon points="268.1,87.3 343.2,93.5 343.2,101.7 268.1,89.4" fill="#6b6869"/><polygon points="151.7,78.0 156.9,72.9 175.4,72.9 180.6,78.0 180.6,92.4 151.7,92.4" fill="#5b5d60"/><polygon points="218.7,80.1 228.9,72.9 251.6,72.9 260.9,80.1 260.9,91.4 218.7,90.4" fill="#5b5d60"/><path d="M74.5 185.7Q119.8 168.6 212.5 165.5Q294.8 165.1 343.2 168.6L343.2 185.7Z" fill="#858a8b"/></g></svg>
<path d="M738.0 890.5H787.8" stroke="#000" stroke-width="3.4" stroke-linecap="round" fill="none"/>
<path d="M801 890.5L779 879.9L781.4 890.5L779 901.1Z" fill="#000"/>
<path d="M808 781L965.5 807V820.5H972.5V807L1130 781V988L972.5 963V949.5H965.5V963L808 988Z" fill="#E2EFDA"/>
<path d="M965.5 820.5V807L808 781V988L965.5 963V949.5M972.5 820.5V807L1130 781V988L972.5 963V949.5" fill="none" stroke="#1AAF54" stroke-width="3.6" stroke-linejoin="miter"/>
<text x="969" y="842.5" font-size="46" fill="#000" stroke="#000" stroke-width="0.55" text-anchor="middle" >Pre-trained</text>
<text x="969" y="898.5" font-size="46" fill="#000" stroke="#000" stroke-width="0.55" text-anchor="middle" >Diffusion</text>
<text x="969" y="954" font-size="46" fill="#000" stroke="#000" stroke-width="0.55" text-anchor="middle" >Model</text>
<path d="M1139.0 895H1175.8" stroke="#000" stroke-width="3.4" stroke-linecap="round" fill="none"/>
<path d="M1189 895L1167 884.4L1169.4 895L1167 905.6Z" fill="#000"/>
<rect x="1196.6" y="837.6" width="100.8" height="99.8" rx="29" fill="none" stroke="#000" stroke-width="3.2"/>
<g transform="translate(1215.5 897.3) scale(1.0)" fill="#000"><path d="M13.6 -35.6L21 -35.6L9.2 11.5A3.7 3.7 0 0 1 1.9 10Z"/><path d="M11.2 -10C11.5 3.5 27 3.5 36.5 -13" fill="none" stroke="#000" stroke-width="5.2"/><path d="M39.8 -35.6L47.4 -35.6L40.8 -9.5C40 -5 42.5 -4 47 -8L48.4 -6.2C43.5 1 32.5 3 34.2 -9Z"/></g>
<text x="1263.0" y="917.8" font-size="48" font-style="italic" fill="#000" stroke="#000" stroke-width="0.4">θ</text>
<text x="1312.5" y="875" font-size="44" fill="#E01414" stroke="#E01414" stroke-width="0.55" textLength="102.5" lengthAdjust="spacingAndGlyphs" >adjust</text>
<path d="M1313.0 894H1418.3" stroke="#000" stroke-width="3.4" stroke-linecap="round" fill="none"/>
<path d="M1431.5 894L1409.5 883.4L1411.9 894L1409.5 904.6Z" fill="#000"/>
<rect x="1444.6" y="837.6" width="101.8" height="100.8" rx="29" fill="none" stroke="#000" stroke-width="3.2"/>
<g transform="translate(1462.5 905.5) scale(0.93)" fill="#2A1FE6"><path d="M13.6 -35.6L21 -35.6L9.2 11.5A3.7 3.7 0 0 1 1.9 10Z"/><path d="M11.2 -10C11.5 3.5 27 3.5 36.5 -13" fill="none" stroke="#2A1FE6" stroke-width="5.2"/><path d="M39.8 -35.6L47.4 -35.6L40.8 -9.5C40 -5 42.5 -4 47 -8L48.4 -6.2C43.5 1 32.5 3 34.2 -9Z"/></g>
<text x="1508.9" y="924.5" font-size="44" font-style="italic" fill="#2A1FE6" stroke="#2A1FE6" stroke-width="0.4">θ</text>
<path d="M1489.47 855.28L1500.07 867.88L1495.67 867.88L1489.47 860.48L1483.27 867.88L1478.8700000000001 867.88Z" fill="#2A1FE6"/>
<path d="M1563.0 892.5H1620.3" stroke="#000" stroke-width="3.4" stroke-linecap="round" fill="none"/>
<path d="M1633.5 892.5L1611.5 881.9L1613.9 892.5L1611.5 903.1Z" fill="#000"/>
<rect x="1640.4" y="836.5" width="515.3" height="102.8" rx="28" fill="none" stroke="#000" stroke-width="3.2"/>
<text x="1658.4" y="910" font-size="76.4" font-style="italic" fill="#000" stroke="#000" stroke-width="0.8" textLength="34.5" lengthAdjust="spacingAndGlyphs">x</text>
<text x="1699.9" y="874" font-size="46" font-style="italic" fill="#000" stroke="#000" stroke-width="0.4">ϕ</text>
<text x="1695.9" y="927.7" font-size="44.5" fill="#000" stroke="#000" stroke-width="0.3"><tspan font-style="italic">k</tspan><tspan font-style="normal">−</tspan><tspan font-style="normal">1</tspan><tspan font-style="normal">,</tspan><tspan font-style="italic">c</tspan></text>
<path d="M1787.3 887.5 C1791.6 870.5 1801.49 870.5 1808.8 882.5 S1826.0 894.5 1830.3 877.5" fill="none" stroke="#000" stroke-width="5.6" stroke-linecap="round"/>
<path d="M1832.3 906.602C1834.502 915.1 1841.8419999999999 913.886 1844.0439999999999 909.03L1856.889 858.649" fill="none" stroke="#000" stroke-width="3.2" stroke-linecap="round" stroke-linejoin="round"/>
<path d="M1832.3 905.3879999999999C1834.502 914.4929999999999 1840.374 913.279 1841.8419999999999 910.851" fill="none" stroke="#000" stroke-width="6" stroke-linecap="round"/>
<path d="M1852.485 858.9525L1862.394 858.9525L1884.781 913.5825L1878.175 913.5825Z" fill="#000"/>
<path d="M1880.377 913.279L1895.791 861.684C1897.626 856.221 1901.296 855.614 1904.599 856.5245" fill="none" stroke="#000" stroke-width="3.2" stroke-linecap="round" stroke-linejoin="round"/>
<path d="M1898.36 857.1315C1900.562 855.614 1902.764 855.614 1904.599 856.828" fill="none" stroke="#000" stroke-width="6.5" stroke-linecap="round"/>
<text x="1909.8" y="914" font-size="74" fill="#000" stroke="#000" stroke-width="0.55" >(</text>
<g transform="translate(1938.8 912) scale(0.93)" fill="#2A1FE6"><path d="M13.6 -35.6L21 -35.6L9.2 11.5A3.7 3.7 0 0 1 1.9 10Z"/><path d="M11.2 -10C11.5 3.5 27 3.5 36.5 -13" fill="none" stroke="#2A1FE6" stroke-width="5.2"/><path d="M39.8 -35.6L47.4 -35.6L40.8 -9.5C40 -5 42.5 -4 47 -8L48.4 -6.2C43.5 1 32.5 3 34.2 -9Z"/></g>
<text x="1984.3" y="931.5" font-size="44" font-style="italic" fill="#2A1FE6" stroke="#2A1FE6" stroke-width="0.4">θ</text>
<path d="M1965.77 861.78L1976.37 874.38L1971.97 874.38L1965.77 866.98L1959.57 874.38L1955.17 874.38Z" fill="#2A1FE6"/>
<text x="2016.8" y="912" font-size="70" fill="#000" stroke="#000" stroke-width="0.55" >,</text>
<text x="2040.8" y="912" font-size="73" fill="#000" stroke="#000" stroke-width="0.55" >Σ</text>
<text x="2089.3" y="931.5" font-size="44" fill="#000" font-style="italic" stroke="#000" stroke-width="0.4">θ</text>
<text x="2120.3" y="914" font-size="74" fill="#000" stroke="#000" stroke-width="0.55" >)</text>
<text x="156.5" y="1037.5" font-size="59" fill="#000" stroke="#000" stroke-width="0.55" >Label </text>
<text x="304" y="1037.5" font-size="59" fill="#000" stroke="#000" stroke-width="0.55" font-style="italic" >y</text>
<text x="559" y="1049" font-size="80.1" font-style="italic" fill="#000" stroke="#000" stroke-width="0.8" textLength="35.9" lengthAdjust="spacingAndGlyphs">x</text>
<text x="601.94624" y="1013" font-size="48" font-style="italic" fill="#000" stroke="#000" stroke-width="0.4">ϕ</text>
<text x="598.94624" y="1070" font-size="50" fill="#000" stroke="#000" stroke-width="0.3"><tspan font-style="italic">k</tspan></text>
<path d="M248 1069.0V1168.3" stroke="#000" stroke-width="3.4" stroke-linecap="round" fill="none"/>
<path d="M248 1181.5L237.4 1159.5L248 1161.9L258.6 1159.5Z" fill="#000"/>
<path d="M593.5 1097.5V1212.8" stroke="#000" stroke-width="3.4" stroke-linecap="round" fill="none"/>
<path d="M593.5 1226L582.9 1204L593.5 1206.4L604.1 1204Z" fill="#000"/>
<svg x="105" y="1193" width="280" height="149.5" viewBox="0 0 280 149.3" preserveAspectRatio="none" overflow="hidden"><g filter="url(#soft2)"><rect width="280" height="150" fill="#000"/><polygon points="0.0,112.5 110.0,69.0 94.2,67.0 94.2,62.5 123.3,62.5 124.2,73.0 128.3,73.0 129.2,71.0 142.5,71.0 143.3,73.0 148.0,73.0 148.3,62.5 166.7,61.3 179.2,61.3 179.2,69.3 188.3,72.2 208.3,72.2 214.2,70.0 213.3,66.3 208.3,61.3 230.0,61.3 230.0,66.0 216.7,69.7 280.0,79.3 280.0,149.7 0.0,149.7" fill="#fff"/><polygon points="0.0,65.0 40.0,63.0 78.3,63.3 78.3,66.7 56.7,67.3 40.0,70.0 11.7,73.3 0.0,72.3" fill="#fff"/><polygon points="231.7,62.5 245.0,61.8 245.0,65.0 231.7,65.5" fill="#fff"/><polygon points="254.2,61.3 265.8,61.3 265.8,64.7 254.2,64.7" fill="#fff"/><path d="M53.3 149.7Q83.3 136.3 128.3 133.3Q156.7 129.7 198.3 129.3Q248.3 129.3 280.0 134.3L280.0 149.7Z" fill="#000"/></g></svg>
<path d="M404.0 1266.5H538.3" stroke="#000" stroke-width="3.4" stroke-linecap="round" fill="none"/>
<path d="M551.5 1266.5L529.5 1255.9L531.9 1266.5L529.5 1277.1Z" fill="#000"/>
<circle cx="593" cy="1265.5" r="24.2" fill="none" stroke="#000" stroke-width="3.6"/><circle cx="593" cy="1265.5" r="6.6" fill="#000"/>
<path d="M631.5 1266.5H784.3" stroke="#000" stroke-width="3.4" stroke-linecap="round" fill="none"/>
<path d="M797.5 1266.5L775.5 1255.9L777.9 1266.5L775.5 1277.1Z" fill="#000"/>
<path d="M808.3 1155L965.5 1181V1194.5H972.5V1181L1130 1155V1363L972.5 1338.5V1325.0H965.5V1338.5L808.3 1363Z" fill="#EFEFEF"/>
<path d="M965.5 1194.5V1181L808.3 1155V1363L965.5 1338.5V1325.0M972.5 1194.5V1181L1130 1155V1363L972.5 1338.5V1325.0" fill="none" stroke="#333" stroke-width="4.2" stroke-linejoin="miter"/>
<text x="969" y="1216.5" font-size="46" fill="#000" stroke="#000" stroke-width="0.55" text-anchor="middle" >Pre-trained</text>
<text x="969" y="1273.5" font-size="46" fill="#000" stroke="#000" stroke-width="0.55" text-anchor="middle" >Segmentation</text>
<text x="884" y="1327.5" font-size="46" fill="#000" stroke="#000" stroke-width="0.55" >Model</text>
<text x="1035" y="1322" font-size="52" fill="#000" stroke="#000" stroke-width="0.55" font-style="italic" >g</text>
<path d="M1140.5 1266.5H1254.3" stroke="#000" stroke-width="3.4" stroke-linecap="round" fill="none"/>
<path d="M1267.5 1266.5L1245.5 1255.9L1247.9 1266.5L1245.5 1277.1Z" fill="#000"/>
<text x="1291.5" y="1279.8" font-size="68" fill="#E01414" stroke="#E01414" stroke-width="0.55" font-style="italic" >L</text>
<text x="1332" y="1288.5" font-size="43" fill="#E01414" stroke="#E01414" stroke-width="0.55" >local</text>
<path d="M1541.0 1266.5H1441.7" stroke="#000" stroke-width="3.4" stroke-linecap="round" fill="none"/>
<path d="M1428.5 1266.5L1450.5 1255.9L1448.1 1266.5L1450.5 1277.1Z" fill="#000"/>
<svg x="1546.5" y="1191" width="281" height="153.5" viewBox="0 0 280 149.3" preserveAspectRatio="none" overflow="hidden"><g filter="url(#soft2)"><rect width="280" height="150" fill="#000"/><polygon points="0.0,112.5 110.0,69.0 94.2,67.0 94.2,62.5 123.3,62.5 124.2,73.0 128.3,73.0 129.2,71.0 142.5,71.0 143.3,73.0 148.0,73.0 148.3,62.5 166.7,61.3 179.2,61.3 179.2,69.3 188.3,72.2 208.3,72.2 214.2,70.0 213.3,66.3 208.3,61.3 230.0,61.3 230.0,66.0 216.7,69.7 280.0,79.3 280.0,149.7 0.0,149.7" fill="#804080"/><polygon points="0.0,65.0 40.0,63.0 78.3,63.3 78.3,66.7 56.7,67.3 40.0,70.0 11.7,73.3 0.0,72.3" fill="#804080"/><polygon points="231.7,62.5 245.0,61.8 245.0,65.0 231.7,65.5" fill="#804080"/><polygon points="254.2,61.3 265.8,61.3 265.8,64.7 254.2,64.7" fill="#804080"/><path d="M53.3 149.7Q83.3 136.3 128.3 133.3Q156.7 129.7 198.3 129.3Q248.3 129.3 280.0 134.3L280.0 149.7Z" fill="#000"/></g></svg>
<path d="M1359 1219V938" stroke="#E01414" stroke-width="3.4" stroke-dasharray="10.9 8.75" fill="none"/>
<path d="M1359 919L1348.3 940.5L1369.7 940.5Z" fill="#E01414"/>
<path d="M1374 1050H1412.2L1392.5 1090.5Z M1384.2 1053.5L1394.6999999999998 1079.7L1407.2 1053.5Z" fill="#E01414" fill-rule="evenodd"/>
<text x="1412" y="1099" font-size="39.5" fill="#E01414" stroke="#E01414" stroke-width="0.55" font-style="italic" >x</text>
<text x="1438" y="1089.6" font-size="60.5" fill="#E01414" stroke="#E01414" stroke-width="0.55" font-style="italic" >L</text>
<text x="1474.5" y="1099" font-size="39.5" fill="#E01414" stroke="#E01414" stroke-width="0.55" >local</text>
<text x="1622" y="1387.5" font-size="60" fill="#000" stroke="#000" stroke-width="0.55" font-style="italic" >y</text>
<circle cx="1686.5" cy="1368.5" r="18.6" fill="none" stroke="#000" stroke-width="3.8"/><circle cx="1686.5" cy="1368.5" r="5.3" fill="#000"/>
<text x="1719" y="1387.5" font-size="60" fill="#000" stroke="#000" stroke-width="0.55" >m</text>
<text x="1767" y="1396" font-size="35" fill="#000" stroke="#000" stroke-width="0.55" >c</text>
<text x="213" y="1387.5" font-size="60" fill="#000" stroke="#000" stroke-width="0.55" >m</text>
<text x="260.5" y="1396" font-size="35" fill="#000" stroke="#000" stroke-width="0.55" >c</text>
<path d="M1920.5 962H1959.5V1414H1977.5L1940 1451.5L1902.5 1414H1920.5Z" fill="#fff" stroke="#000" stroke-width="2.5" stroke-linejoin="miter"/>
<text x="104" y="1522.5" font-size="79" fill="#000" font-weight="bold" textLength="624.5" lengthAdjust="spacingAndGlyphs" >(b) Details of LCG</text>
<text x="1320" y="1507.5" font-size="58" fill="#25A7E1" stroke="#25A7E1" stroke-width="0.55" >Output:</text>
<text x="1538" y="1509" font-size="60.1" font-style="italic" fill="#000" stroke="#000" stroke-width="0.8" textLength="27.0" lengthAdjust="spacingAndGlyphs">x</text>
<text x="1571.95968" y="1482" font-size="38" font-style="italic" fill="#000" stroke="#000" stroke-width="0.4">ϕ</text>
<text x="1568.95968" y="1525" font-size="37.5" fill="#000" stroke="#000" stroke-width="0.3"><tspan font-style="italic">k</tspan><tspan font-style="normal">−</tspan><tspan font-style="normal">1</tspan></text>
<path d="M1646 1489.5H1681M1646 1501H1681" stroke="#000" stroke-width="3.5"/>
<text x="1694" y="1513.5" font-size="92" fill="#000" stroke="#000" stroke-width="0.55" textLength="75" lengthAdjust="spacingAndGlyphs">∑</text>
<text x="1721" y="1571" font-size="34" fill="#000" stroke="#000" stroke-width="0.55" font-style="italic" >c</text>
<text x="1771" y="1509" font-size="66" fill="#000" font-style="italic" stroke="#000" stroke-width="0.6">m</text>
<text x="1818" y="1525" font-size="40" fill="#000" stroke="#000" stroke-width="0.55" font-style="italic" >c</text>
<circle cx="1877.5" cy="1493" r="20.900000000000002" fill="none" stroke="#000" stroke-width="2.8"/><circle cx="1877.5" cy="1493" r="3.4" fill="#000"/>
<text x="1911.5" y="1509" font-size="60.1" font-style="italic" fill="#000" stroke="#000" stroke-width="0.8" textLength="27.0" lengthAdjust="spacingAndGlyphs">x</text>
<text x="1945.45968" y="1482" font-size="38" font-style="italic" fill="#000" stroke="#000" stroke-width="0.4">ϕ</text>
<text x="1942.45968" y="1525" font-size="37.5" fill="#000" stroke="#000" stroke-width="0.3"><tspan font-style="italic">k</tspan><tspan font-style="normal">−</tspan><tspan font-style="normal">1</tspan><tspan font-style="normal">,</tspan><tspan font-style="italic">c</tspan></text>
<rect x="2232" y="754" width="1752" height="675.5" rx="27" fill="#F8F6FC" stroke="#7030A0" stroke-width="6"/>
<text x="2281" y="720" font-size="59" fill="#7030A0" stroke="#7030A0" stroke-width="0.55" >Input:</text>
<text x="2433" y="722.5" font-size="72.8" font-style="italic" fill="#000" stroke="#000" stroke-width="0.8" textLength="32.7" lengthAdjust="spacingAndGlyphs">x</text>
<text x="2472.6784" y="686.5" font-size="46" font-style="italic" fill="#000" stroke="#000" stroke-width="0.4">ϕ</text>
<text x="2469.6784" y="740.5" font-size="46" fill="#000" stroke="#000" stroke-width="0.3"><tspan font-style="italic">k</tspan></text>
<path d="M2371.5 733H2409V763.5H2427.5L2390 800L2352.5 763.5H2371.5Z" fill="#fff" stroke="#000" stroke-width="2.5" stroke-linejoin="miter"/>
<svg x="2251.5" y="806" width="280" height="150" viewBox="0 0 344 184" preserveAspectRatio="none" overflow="hidden"><g filter="url(#nzF)"><rect width="344" height="184" fill="#a2a6a5"/><polygon points="300.0,0.0 343.2,0.0 343.2,48.2 288.7,48.2 288.7,32.7 300.0,22.4" fill="#6b6f6d"/><polygon points="0.0,64.6 23.1,65.7 43.6,58.5 68.4,54.4 93.1,56.4 126.0,57.4 130.1,52.3 154.8,52.3 156.9,58.5 175.4,56.4 175.4,37.9 199.1,37.9 200.1,54.4 216.6,64.6 228.9,52.3 259.8,47.1 288.7,44.1 290.7,48.2 343.2,48.2 343.2,79.1 0.0,79.1" fill="#646867"/><ellipse cx="13.4" cy="28.6" rx="4.5" ry="5.8" fill="#8c918f"/><ellipse cx="33.8" cy="26.6" rx="4.5" ry="6.2" fill="#8c918f"/><ellipse cx="35.4" cy="50.2" rx="4.5" ry="5.8" fill="#8c918f"/><ellipse cx="87.9" cy="43.0" rx="5.4" ry="4.5" fill="#8c918f"/><ellipse cx="109.5" cy="46.1" rx="6.2" ry="6.2" fill="#8c918f"/><ellipse cx="157.5" cy="38.9" rx="6.2" ry="6.6" fill="#8c918f"/><ellipse cx="250.6" cy="35.8" rx="6.6" ry="6.6" fill="#8c918f"/><ellipse cx="63.2" cy="48.2" rx="4.1" ry="4.1" fill="#8c918f"/><line x1="110.6" y1="2.9" x2="112.0" y2="68.8" stroke="#8c918f" stroke-width="1.0"/><line x1="157.5" y1="37.9" x2="157.5" y2="68.8" stroke="#8c918f" stroke-width="1.0"/><line x1="249.5" y1="35.8" x2="245.8" y2="68.8" stroke="#8c918f" stroke-width="1.0"/><polygon points="0.0,78.0 343.2,78.0 343.2,183.4 0.0,183.4" fill="#676a6a"/><polygon points="0.0,87.3 101.3,83.2 128.1,87.3 0.0,124.4" fill="#666b62"/><polygon points="0.0,124.4 128.1,87.3 136.3,86.9 0.0,137.7" fill="#6b6869"/><polygon points="200.1,85.2 205.3,85.2 274.2,118.2 269.1,120.2" fill="#6c6e6e"/><polygon points="268.1,87.3 343.2,93.5 343.2,101.7 268.1,89.4" fill="#6b6869"/><polygon points="151.7,78.0 156.9,72.9 175.4,72.9 180.6,78.0 180.6,92.4 151.7,92.4" fill="#5b5d60"/><polygon points="218.7,80.1 228.9,72.9 251.6,72.9 260.9,80.1 260.9,91.4 218.7,90.4" fill="#5b5d60"/><path d="M74.5 185.7Q119.8 168.6 212.5 165.5Q294.8 165.1 343.2 168.6L343.2 185.7Z" fill="#858a8b"/></g></svg>
<path d="M2538.0 885.5H2587.8" stroke="#000" stroke-width="3.4" stroke-linecap="round" fill="none"/>
<path d="M2601 885.5L2579 874.9L2581.4 885.5L2579 896.1Z" fill="#000"/>
<path d="M2610.5 783L2767.5 810V823.5H2774.5V810L2932 783V989.5L2774.5 964V950.5H2767.5V964L2610.5 989.5Z" fill="#E2EFDA"/>
<path d="M2767.5 823.5V810L2610.5 783V989.5L2767.5 964V950.5M2774.5 823.5V810L2932 783V989.5L2774.5 964V950.5" fill="none" stroke="#1AAF54" stroke-width="3.6" stroke-linejoin="miter"/>
<text x="2771" y="845" font-size="46" fill="#000" stroke="#000" stroke-width="0.55" text-anchor="middle" >Pre-trained</text>
<text x="2771" y="901" font-size="46" fill="#000" stroke="#000" stroke-width="0.55" text-anchor="middle" >Diffusion</text>
<text x="2771" y="956" font-size="46" fill="#000" stroke="#000" stroke-width="0.55" text-anchor="middle" >Model</text>
<path d="M2939.0 890H2976.8" stroke="#000" stroke-width="3.4" stroke-linecap="round" fill="none"/>
<path d="M2990 890L2968 879.4L2970.4 890L2968 900.6Z" fill="#000"/>
<rect x="3000.6" y="837.6" width="102.8" height="100.8" rx="29" fill="none" stroke="#000" stroke-width="3.2"/>
<g transform="translate(3019.5 897.3) scale(1.0)" fill="#000"><path d="M13.6 -35.6L21 -35.6L9.2 11.5A3.7 3.7 0 0 1 1.9 10Z"/><path d="M11.2 -10C11.5 3.5 27 3.5 36.5 -13" fill="none" stroke="#000" stroke-width="5.2"/><path d="M39.8 -35.6L47.4 -35.6L40.8 -9.5C40 -5 42.5 -4 47 -8L48.4 -6.2C43.5 1 32.5 3 34.2 -9Z"/></g>
<text x="3067.0" y="917.8" font-size="48" font-style="italic" fill="#000" stroke="#000" stroke-width="0.4">θ</text>
<text x="3136.5" y="871.5" font-size="44" fill="#E01414" stroke="#E01414" stroke-width="0.55" textLength="102.5" lengthAdjust="spacingAndGlyphs" >adjust</text>
<path d="M3118.0 893.5H3264.3" stroke="#000" stroke-width="3.4" stroke-linecap="round" fill="none"/>
<path d="M3277.5 893.5L3255.5 882.9L3257.9 893.5L3255.5 904.1Z" fill="#000"/>
<rect x="3297.6" y="837.6" width="101.8" height="100.8" rx="29" fill="none" stroke="#000" stroke-width="3.2"/>
<g transform="translate(3315.5 905.5) scale(0.93)" fill="#2A1FE6"><path d="M13.6 -35.6L21 -35.6L9.2 11.5A3.7 3.7 0 0 1 1.9 10Z"/><path d="M11.2 -10C11.5 3.5 27 3.5 36.5 -13" fill="none" stroke="#2A1FE6" stroke-width="5.2"/><path d="M39.8 -35.6L47.4 -35.6L40.8 -9.5C40 -5 42.5 -4 47 -8L48.4 -6.2C43.5 1 32.5 3 34.2 -9Z"/></g>
<text x="3361.9" y="924.5" font-size="44" font-style="italic" fill="#2A1FE6" stroke="#2A1FE6" stroke-width="0.4">θ</text>
<path d="M3342.47 855.28L3353.0699999999997 867.88L3348.6699999999996 867.88L3342.47 860.48L3336.27 867.88L3331.87 867.88Z" fill="#2A1FE6"/>
<path d="M3412.5 891.5H3464.3" stroke="#000" stroke-width="3.4" stroke-linecap="round" fill="none"/>
<path d="M3477.5 891.5L3455.5 880.9L3457.9 891.5L3455.5 902.1Z" fill="#000"/>
<rect x="3487.1" y="833.6" width="482.8" height="101.3" rx="28" fill="none" stroke="#000" stroke-width="3.2"/>
<text x="3497" y="905.5" font-size="76.4" font-style="italic" fill="#000" stroke="#000" stroke-width="0.8" textLength="34.5" lengthAdjust="spacingAndGlyphs">x</text>
<text x="3538.5" y="869.5" font-size="46" font-style="italic" fill="#000" stroke="#000" stroke-width="0.4">ϕ</text>
<text x="3534.5" y="923.2" font-size="44.5" fill="#000" stroke="#000" stroke-width="0.3"><tspan font-style="italic">k</tspan><tspan font-style="normal">−</tspan><tspan font-style="normal">1</tspan></text>
<path d="M3602 883.5 C3606.3 866.5 3616.19 866.5 3623.5 878.5 S3640.7 890.5 3645 873.5" fill="none" stroke="#000" stroke-width="5.6" stroke-linecap="round"/>
<path d="M3647.0 902.602C3649.202 911.1 3656.542 909.886 3658.744 905.03L3671.589 854.649" fill="none" stroke="#000" stroke-width="3.2" stroke-linecap="round" stroke-linejoin="round"/>
<path d="M3647.0 901.3879999999999C3649.202 910.4929999999999 3655.074 909.279 3656.542 906.851" fill="none" stroke="#000" stroke-width="6" stroke-linecap="round"/>
<path d="M3667.185 854.9525L3677.094 854.9525L3699.481 909.5825L3692.875 909.5825Z" fill="#000"/>
<path d="M3695.077 909.279L3710.491 857.684C3712.326 852.221 3715.996 851.614 3719.299 852.5245" fill="none" stroke="#000" stroke-width="3.2" stroke-linecap="round" stroke-linejoin="round"/>
<path d="M3713.06 853.1315C3715.262 851.614 3717.464 851.614 3719.299 852.828" fill="none" stroke="#000" stroke-width="6.5" stroke-linecap="round"/>
<text x="3724.5" y="910" font-size="74" fill="#000" stroke="#000" stroke-width="0.55" >(</text>
<g transform="translate(3753.5 908) scale(0.93)" fill="#2A1FE6"><path d="M13.6 -35.6L21 -35.6L9.2 11.5A3.7 3.7 0 0 1 1.9 10Z"/><path d="M11.2 -10C11.5 3.5 27 3.5 36.5 -13" fill="none" stroke="#2A1FE6" stroke-width="5.2"/><path d="M39.8 -35.6L47.4 -35.6L40.8 -9.5C40 -5 42.5 -4 47 -8L48.4 -6.2C43.5 1 32.5 3 34.2 -9Z"/></g>
<text x="3799.0" y="927.5" font-size="44" font-style="italic" fill="#2A1FE6" stroke="#2A1FE6" stroke-width="0.4">θ</text>
<path d="M3780.47 857.78L3791.0699999999997 870.38L3786.6699999999996 870.38L3780.47 862.98L3774.27 870.38L3769.87 870.38Z" fill="#2A1FE6"/>
<text x="3831.5" y="908" font-size="70" fill="#000" stroke="#000" stroke-width="0.55" >,</text>
<text x="3855.5" y="908" font-size="73" fill="#000" stroke="#000" stroke-width="0.55" >Σ</text>
<text x="3904" y="927.5" font-size="44" fill="#000" font-style="italic" stroke="#000" stroke-width="0.4">θ</text>
<text x="3935" y="910" font-size="74" fill="#000" stroke="#000" stroke-width="0.55" >)</text>
<text x="2354" y="1044" font-size="80.1" font-style="italic" fill="#000" stroke="#000" stroke-width="0.8" textLength="35.9" lengthAdjust="spacingAndGlyphs">x</text>
<text x="2396.94624" y="1008" font-size="48" font-style="italic" fill="#000" stroke="#000" stroke-width="0.4">ϕ</text>
<text x="2393.94624" y="1065" font-size="50" fill="#000" stroke="#000" stroke-width="0.3"><tspan font-style="italic">k</tspan></text>
<path d="M2391.5 1099V1263.5H2575" stroke="#000" stroke-width="3.4" fill="none"/>
<path d="M2541.5 1263.5H2576.8" stroke="#000" stroke-width="3.4" stroke-linecap="round" fill="none"/>
<path d="M2590 1263.5L2568 1252.9L2570.4 1263.5L2568 1274.1Z" fill="#000"/>
<path d="M2610.8 1160.5L2767.5 1183.5V1197.0H2774.5V1183.5L2932 1160.5V1367L2774.5 1341.5V1328.0H2767.5V1341.5L2610.8 1367Z" fill="#EFEFEF"/>
<path d="M2767.5 1197.0V1183.5L2610.8 1160.5V1367L2767.5 1341.5V1328.0M2774.5 1197.0V1183.5L2932 1160.5V1367L2774.5 1341.5V1328.0" fill="none" stroke="#333" stroke-width="4.2" stroke-linejoin="miter"/>
<text x="2771" y="1221.5" font-size="46" fill="#000" stroke="#000" stroke-width="0.55" text-anchor="middle" >Pre-trained</text>
<text x="2771" y="1278.5" font-size="46" fill="#000" stroke="#000" stroke-width="0.55" text-anchor="middle" >Segmentation</text>
<text x="2687.5" y="1332.5" font-size="46" fill="#000" stroke="#000" stroke-width="0.55" >Model</text>
<text x="2836" y="1327" font-size="52" fill="#000" stroke="#000" stroke-width="0.55" font-style="italic" >g</text>
<path d="M2950.5 1261H3092.8" stroke="#000" stroke-width="3.4" stroke-linecap="round" fill="none"/>
<path d="M3106 1261L3084 1250.4L3086.4 1261L3084 1271.6Z" fill="#000"/>
<text x="3129.5" y="1279.8" font-size="68" fill="#E01414" stroke="#E01414" stroke-width="0.55" font-style="italic" >L</text>
<text x="3170.5" y="1289" font-size="43" fill="#E01414" stroke="#E01414" stroke-width="0.55" textLength="104" lengthAdjust="spacingAndGlyphs" >global</text>
<path d="M3407.5 1261H3302.2" stroke="#000" stroke-width="3.4" stroke-linecap="round" fill="none"/>
<path d="M3289 1261L3311 1250.4L3308.6 1261L3311 1271.6Z" fill="#000"/>
<svg x="3422" y="1185" width="280.5" height="149" viewBox="0 0 280 149.3" preserveAspectRatio="none" overflow="hidden"><g filter="url(#soft2)"><rect width="280" height="150" fill="#4682B4"/><polygon points="244.2,0.0 280.0,0.0 280.0,63.0 191.7,63.0 191.7,39.7 211.7,35.0 236.7,33.3 236.7,23.0 244.2,18.3" fill="#464646"/><polygon points="35.0,46.3 103.3,46.3 106.7,39.7 130.0,39.7 133.3,41.3 173.3,41.3 176.7,51.3 191.7,51.3 191.7,63.0 0.0,63.0 0.0,50.5 13.3,47.2 13.3,53.0 35.0,53.0" fill="#464646"/><polygon points="143.0,27.2 163.3,28.3 163.3,41.3 143.0,40.5" fill="#000"/><polygon points="51.7,35.5 57.5,35.5 57.5,40.5 73.3,41.3 73.3,48.8 58.3,49.7 58.3,55.0 53.3,55.0 53.3,43.0 50.8,41.3" fill="#000"/><polygon points="96.7,53.8 131.7,53.8 131.7,61.7 96.7,61.7" fill="#c9a6b6"/><polygon points="101.7,32.7 123.3,32.7 123.3,39.7 101.7,39.7" fill="#5f7296"/><polygon points="0.0,63.0 280.0,61.3 280.0,149.3 0.0,149.3" fill="#804080"/><polygon points="0.0,58.0 40.0,60.5 40.0,63.8 0.0,63.8" fill="#00008E"/><polygon points="245.0,51.7 255.0,51.7 255.0,57.2 265.0,57.2 265.0,60.5 245.0,60.5" fill="#00008E"/><polygon points="0.0,73.8 56.7,66.7 100.0,69.0 0.0,101.0" fill="#98FB98"/><polygon points="0.0,101.0 100.0,69.0 110.3,68.0 0.0,112.7" fill="#F423E8"/><polygon points="216.7,67.7 280.0,63.3 280.0,79.3 240.0,74.3" fill="#F423E8"/><ellipse cx="10.8" cy="22.2" rx="4.2" ry="4.8" fill="#7f9a2e"/><ellipse cx="27.5" cy="21.3" rx="4.7" ry="5.4" fill="#7f9a2e"/><ellipse cx="38.3" cy="29.7" rx="2.5" ry="2.9" fill="#7f9a2e"/><ellipse cx="28.7" cy="39.7" rx="3.7" ry="4.2" fill="#7f9a2e"/><ellipse cx="72.5" cy="33.8" rx="5.0" ry="5.8" fill="#7f9a2e"/><ellipse cx="89.2" cy="37.2" rx="5.7" ry="6.5" fill="#7f9a2e"/><ellipse cx="128.7" cy="30.5" rx="5.3" ry="6.1" fill="#7f9a2e"/><ellipse cx="204.5" cy="28.8" rx="6.2" ry="7.1" fill="#7f9a2e"/><ellipse cx="49.2" cy="38.0" rx="3.0" ry="3.4" fill="#7f9a2e"/><line x1="10.8" y1="23.0" x2="12.5" y2="56.3" stroke="#7f9a2e" stroke-width="1.0"/><line x1="28.0" y1="23.0" x2="29.7" y2="56.3" stroke="#7f9a2e" stroke-width="1.0"/><line x1="128.7" y1="31.3" x2="129.3" y2="56.3" stroke="#7f9a2e" stroke-width="1.2"/><line x1="203.7" y1="31.3" x2="200.8" y2="56.3" stroke="#7f9a2e" stroke-width="1.3"/><line x1="73.3" y1="36.3" x2="76.7" y2="61.3" stroke="#7f9a2e" stroke-width="1.2"/><line x1="90.5" y1="2.2" x2="92.0" y2="66.7" stroke="#a8a8a8" stroke-width="1.5"/><line x1="159.7" y1="21.3" x2="159.7" y2="61.3" stroke="#a8a8a8" stroke-width="1.3"/><line x1="271.3" y1="4.7" x2="268.7" y2="58.0" stroke="#a8a8a8" stroke-width="1.5"/><line x1="188.3" y1="34.7" x2="188.3" y2="56.3" stroke="#a8a8a8" stroke-width="1.0"/><line x1="263.3" y1="7.2" x2="271.7" y2="5.0" stroke="#a8a8a8" stroke-width="1.5"/><line x1="243.3" y1="39.7" x2="270.0" y2="38.8" stroke="#8a8a8a" stroke-width="1.2"/><polygon points="227.0,46.8 232.5,41.3 238.0,46.8 232.5,52.3" fill="#DCDC00"/><line x1="231.7" y1="51.3" x2="231.7" y2="69.7" stroke="#c838c0" stroke-width="0.8"/><rect x="247.2" y="29.7" width="2.3" height="6.0" fill="#FAAA1E"/><rect x="254.5" y="26.8" width="3.3" height="6.7" fill="#FAAA1E"/><rect x="265.0" y="31.8" width="4.0" height="8.3" fill="#FAAA1E"/><rect x="263.3" y="45.7" width="5.0" height="4.0" fill="#FAAA1E"/><rect x="184.5" y="45.5" width="6.0" height="5.0" fill="#FAAA1E"/><polygon points="78.3,54.3 92.0,53.8 92.5,66.3 79.2,66.7" fill="#8a5a14"/><polygon points="265.8,58.8 277.0,58.8 277.0,69.7 273.3,71.3 273.3,74.7 270.0,74.7 270.0,71.0 265.8,69.7" fill="#8a5a14"/><polygon points="246.7,60.5 254.2,60.5 254.2,64.7 251.7,64.7 251.7,72.2 248.3,72.2 248.3,64.7 246.7,64.7" fill="#5a3a8a"/><path d="M123.3 73.0L123.3 64.7Q128.3 57.2 135.8 57.2Q145.0 57.2 148.3 64.7L148.3 73.8L143.3 73.8L142.5 71.0L129.2 71.0L128.3 73.8Z" fill="#00008E"/><polygon points="179.2,63.8 185.8,58.0 205.0,57.2 210.0,63.0 214.2,64.7 214.2,70.5 208.3,72.7 188.3,72.7 179.2,69.7" fill="#00008E"/><path d="M53.3 149.7Q83.3 136.3 128.3 133.3Q156.7 129.7 198.3 129.3Q248.3 129.3 280.0 134.3L280.0 149.7Z" fill="#000"/></g></svg>
<text x="3474.5" y="1385" font-size="59" fill="#000" stroke="#000" stroke-width="0.55" >Label </text>
<text x="3622" y="1385" font-size="59" fill="#000" stroke="#000" stroke-width="0.55" font-style="italic" >y</text>
<path d="M3197.3 1219V938" stroke="#E01414" stroke-width="3.4" stroke-dasharray="10.9 8.85" fill="none"/>
<path d="M3197.5 918.5L3186.8 940L3208.2 940Z" fill="#E01414"/>
<path d="M3214 1061.2H3252.2L3232.5 1101.5Z M3224.2 1064.7L3234.7 1090.7L3247.2 1064.7Z" fill="#E01414" fill-rule="evenodd"/>
<text x="3252" y="1109.4" font-size="39.5" fill="#E01414" stroke="#E01414" stroke-width="0.55" font-style="italic" >x</text>
<text x="3278" y="1101" font-size="60.5" fill="#E01414" stroke="#E01414" stroke-width="0.55" font-style="italic" >L</text>
<text x="3315" y="1109" font-size="39.5" fill="#E01414" stroke="#E01414" stroke-width="0.55" textLength="95" lengthAdjust="spacingAndGlyphs" >global</text>
<path d="M3796.5 961H3834.5V1420H3853.5L3815.5 1457.5L3778.5 1420H3796.5Z" fill="#fff" stroke="#000" stroke-width="2.5" stroke-linejoin="miter"/>
<text x="2250" y="1514" font-size="79" fill="#000" font-weight="bold" textLength="631" lengthAdjust="spacingAndGlyphs" >(c)  Details of GSG</text>
<text x="3587" y="1507.5" font-size="58" fill="#7030A0" stroke="#7030A0" stroke-width="0.55" >Output:</text>
<text x="3789.5" y="1512.5" font-size="65.5" font-style="italic" fill="#000" stroke="#000" stroke-width="0.8" textLength="29.4" lengthAdjust="spacingAndGlyphs">x</text>
<text x="3825.91056" y="1484.5" font-size="42" font-style="italic" fill="#000" stroke="#000" stroke-width="0.4">ϕ</text>
<text x="3822.91056" y="1531.0" font-size="44" fill="#000" stroke="#000" stroke-width="0.3"><tspan font-style="italic">k</tspan><tspan font-style="normal">−</tspan><tspan font-style="normal">1</tspan></text>
<g opacity="0.34"><path d="M3003.0 1392.0L2981.5 1426.1M2983.8 1423.9L3033.5 1423.9M2978.1 1448.1L3035.8 1448.1M3009.8 1405.2L3009.8 1451.4L3001.9 1477.8L2979.3 1500.9M3012.0 1458.0L3033.5 1498.7M3048.2 1489.9L3048.2 1410.7L3085.5 1410.7L3085.5 1489.9M3048.2 1485.5L3085.5 1485.5M3213.2 1395.3L3174.4 1403.0L3111.7 1407.4M3115.1 1410.7L3136.8 1433.8M3204.0 1417.3L3183.5 1436.0M3106.0 1452.5L3220.0 1452.5M3164.1 1403.0L3164.1 1488.8L3158.4 1496.5L3137.9 1494.3M3416.2 1392.2L3392.4 1439.5M3403.2 1420.8L3487.4 1420.8M3389.2 1454.9L3495.0 1454.9M3442.1 1392.2L3442.1 1500.0M3533.2 1392.2L3509.4 1439.5M3520.2 1420.8L3604.4 1420.8M3506.2 1454.9L3612.0 1454.9M3559.1 1392.2L3559.1 1500.0M3649.2 1392.2L3625.4 1439.5M3636.2 1420.8L3720.4 1420.8M3622.2 1454.9L3728.0 1454.9M3675.1 1392.2L3675.1 1500.0M3751.7 1497.8L3751.7 1416.4L3835.7 1416.4L3835.7 1489.0L3830.1 1495.6L3816.6 1494.5M3794.2 1392.2L3794.2 1418.6M3794.2 1418.6L3760.6 1449.4M3792.0 1423.0L3821.1 1447.2M3794.2 1447.2L3761.8 1482.4M3794.2 1458.2L3823.4 1482.4M3874.6 1393.3L3855.2 1439.5M3868.1 1416.4L3898.4 1416.4L3889.7 1428.5M3874.6 1438.4L3874.6 1496.7L3898.4 1475.8M3956.7 1398.8L3928.6 1408.7L3904.8 1414.2M3904.8 1412.0L3904.8 1456.0L3891.9 1498.9M3907.0 1438.4L3950.2 1438.4L3928.6 1472.5L3902.7 1498.9M3914.6 1450.5L3959.9 1496.7" fill="none" stroke="#000" stroke-width="9.5" stroke-linejoin="miter"/><text x="3264.4" y="1481.5" style="font-family:'Liberation Sans',sans-serif" font-size="116" fill="#000">@</text></g><g transform="translate(-7 -7)"><path d="M3003.0 1392.0L2981.5 1426.1M2983.8 1423.9L3033.5 1423.9M2978.1 1448.1L3035.8 1448.1M3009.8 1405.2L3009.8 1451.4L3001.9 1477.8L2979.3 1500.9M3012.0 1458.0L3033.5 1498.7M3048.2 1489.9L3048.2 1410.7L3085.5 1410.7L3085.5 1489.9M3048.2 1485.5L3085.5 1485.5M3213.2 1395.3L3174.4 1403.0L3111.7 1407.4M3115.1 1410.7L3136.8 1433.8M3204.0 1417.3L3183.5 1436.0M3106.0 1452.5L3220.0 1452.5M3164.1 1403.0L3164.1 1488.8L3158.4 1496.5L3137.9 1494.3M3416.2 1392.2L3392.4 1439.5M3403.2 1420.8L3487.4 1420.8M3389.2 1454.9L3495.0 1454.9M3442.1 1392.2L3442.1 1500.0M3533.2 1392.2L3509.4 1439.5M3520.2 1420.8L3604.4 1420.8M3506.2 1454.9L3612.0 1454.9M3559.1 1392.2L3559.1 1500.0M3649.2 1392.2L3625.4 1439.5M3636.2 1420.8L3720.4 1420.8M3622.2 1454.9L3728.0 1454.9M3675.1 1392.2L3675.1 1500.0M3751.7 1497.8L3751.7 1416.4L3835.7 1416.4L3835.7 1489.0L3830.1 1495.6L3816.6 1494.5M3794.2 1392.2L3794.2 1418.6M3794.2 1418.6L3760.6 1449.4M3792.0 1423.0L3821.1 1447.2M3794.2 1447.2L3761.8 1482.4M3794.2 1458.2L3823.4 1482.4M3874.6 1393.3L3855.2 1439.5M3868.1 1416.4L3898.4 1416.4L3889.7 1428.5M3874.6 1438.4L3874.6 1496.7L3898.4 1475.8M3956.7 1398.8L3928.6 1408.7L3904.8 1414.2M3904.8 1412.0L3904.8 1456.0L3891.9 1498.9M3907.0 1438.4L3950.2 1438.4L3928.6 1472.5L3902.7 1498.9M3914.6 1450.5L3959.9 1496.7" fill="none" stroke="#fff" stroke-width="9.5" stroke-linejoin="miter"/><text x="3264.4" y="1481.5" style="font-family:'Liberation Sans',sans-serif" font-size="116" fill="#fff">@</text></g>
</svg></body></html>
